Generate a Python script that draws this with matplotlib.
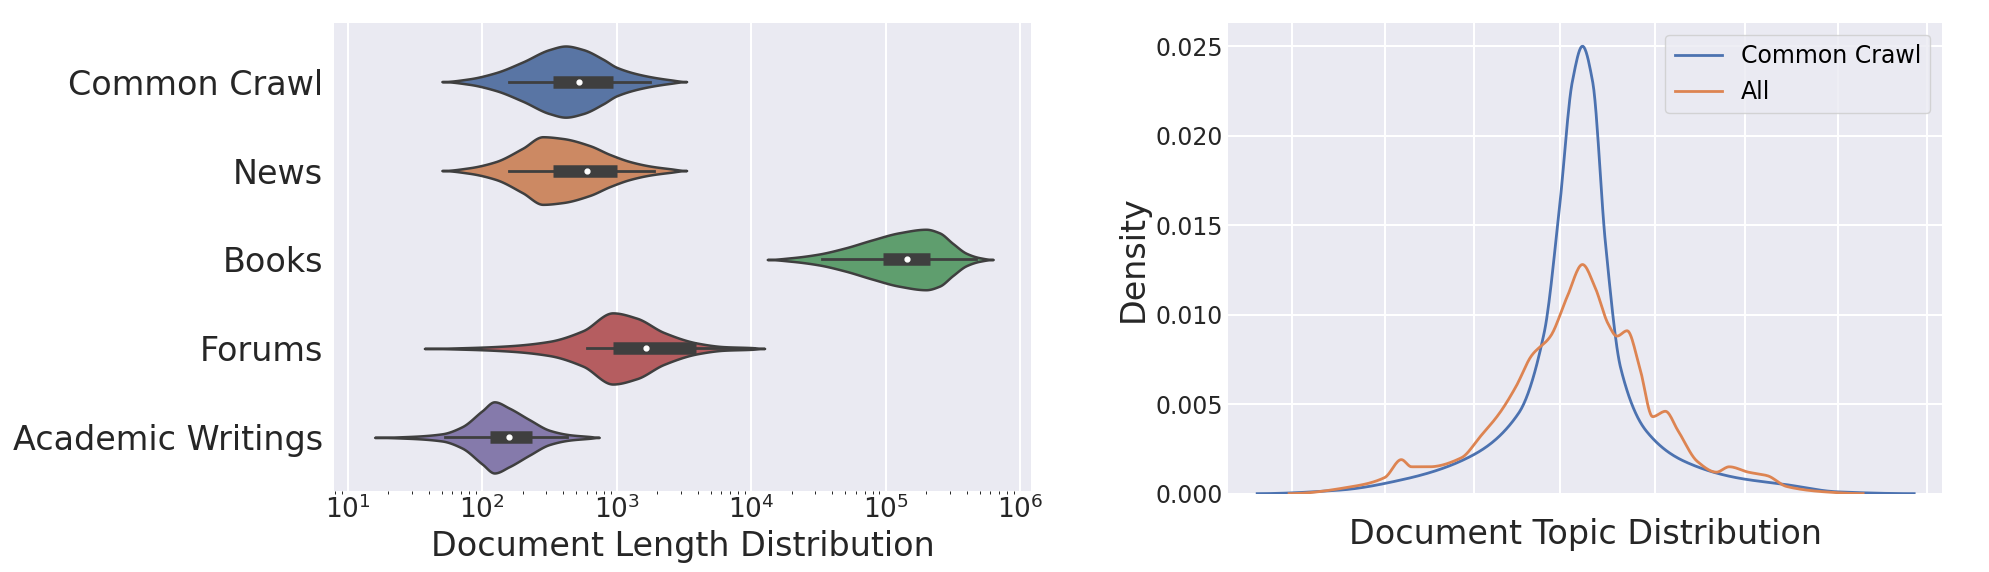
import numpy as np
import matplotlib
matplotlib.use("Agg")
import matplotlib.pyplot as plt

categories = ["Common Crawl", "News", "Books", "Forums", "Academic Writings"]
colors = ["#5975a4", "#cc8963", "#5f9e6e", "#b55d60", "#857aab"]
# violin outlines: log10(length) and half-width
prof_x = [
    [1.70, 1.90, 2.10, 2.30, 2.50, 2.62, 2.75, 2.90, 3.00, 3.20, 3.40, 3.52],
    [1.70, 1.90, 2.10, 2.30, 2.45, 2.60, 2.80, 2.95, 3.10, 3.25, 3.40, 3.52],
    [4.12, 4.30, 4.50, 4.70, 4.90, 5.10, 5.30, 5.40, 5.50, 5.60, 5.70, 5.80],
    [1.57, 1.90, 2.20, 2.50, 2.75, 2.97, 3.15, 3.35, 3.60, 3.80, 4.00, 4.10],
    [1.20, 1.45, 1.70, 1.85, 2.00, 2.09, 2.20, 2.35, 2.50, 2.65, 2.80, 2.87],
]
prof_w = [
    [0.00, 0.03, 0.10, 0.22, 0.36, 0.40, 0.36, 0.25, 0.16, 0.07, 0.02, 0.00],
    [0.00, 0.03, 0.10, 0.25, 0.38, 0.36, 0.28, 0.18, 0.10, 0.05, 0.02, 0.00],
    [0.00, 0.02, 0.06, 0.13, 0.22, 0.30, 0.34, 0.30, 0.18, 0.07, 0.02, 0.00],
    [0.00, 0.01, 0.03, 0.08, 0.20, 0.40, 0.34, 0.18, 0.06, 0.02, 0.01, 0.00],
    [0.00, 0.01, 0.04, 0.12, 0.30, 0.40, 0.33, 0.20, 0.08, 0.03, 0.01, 0.00],
]
whisk_lo = [2.20, 2.20, 4.53, 2.78, 1.72]
q1 = [2.53, 2.53, 4.98, 2.97, 2.06]
med = [2.72, 2.78, 5.16, 3.22, 2.20]
q3 = [2.97, 3.00, 5.33, 3.59, 2.37]
whisk_hi = [3.25, 3.28, 5.67, 4.02, 2.63]

# right panel KDE curves (topic axis position, density)
cc_x = [985, 1050, 1100, 1150, 1190, 1210, 1222, 1232, 1240, 1248, 1258, 1270, 1290, 1320, 1360, 1400, 1440, 1500]
cc_y = [0, 0.0002, 0.0008, 0.002, 0.0045, 0.009, 0.016, 0.023, 0.025, 0.023, 0.014, 0.007, 0.0035, 0.0018, 0.0009, 0.0005, 0.0001, 0]
all_x = [1010, 1060, 1085, 1098, 1106, 1120, 1145, 1160, 1175, 1188, 1200, 1215, 1228, 1240, 1250, 1260, 1267, 1275, 1285, 1295, 1305, 1315, 1330, 1345, 1355, 1370, 1385, 1400, 1430, 1460]
all_y = [0, 0.0004, 0.0009, 0.0019, 0.0015, 0.0015, 0.002, 0.0032, 0.0045, 0.006, 0.0077, 0.0088, 0.011, 0.0128, 0.0115, 0.0095, 0.0088, 0.0091, 0.007, 0.0043, 0.0046, 0.0035, 0.0018, 0.0012, 0.0015, 0.0012, 0.001, 0.0004, 0.0001, 0]


def smooth_curve(x, y, n=600):
    """Monotone cubic Hermite (PCHIP) through the read points."""
    x = np.asarray(x, float); y = np.asarray(y, float)
    h = np.diff(x); d = np.diff(y) / h
    m = np.zeros_like(y)
    for k in range(1, len(x) - 1):
        if d[k - 1] * d[k] > 0:
            w1 = 2 * h[k] + h[k - 1]; w2 = h[k] + 2 * h[k - 1]
            m[k] = (w1 + w2) / (w1 / d[k - 1] + w2 / d[k])
    xx = np.linspace(x[0], x[-1], n)
    idx = np.clip(np.searchsorted(x, xx) - 1, 0, len(x) - 2)
    t = (xx - x[idx]) / h[idx]
    h00 = 2 * t**3 - 3 * t**2 + 1; h10 = t**3 - 2 * t**2 + t
    h01 = -2 * t**3 + 3 * t**2; h11 = t**3 - t**2
    yy = h00 * y[idx] + h10 * h[idx] * m[idx] + h01 * y[idx + 1] + h11 * h[idx] * m[idx + 1]
    return xx, yy


plt.rcParams["font.family"] = "DejaVu Sans"
fig = plt.figure(figsize=(19.9, 5.72), dpi=100)
fig.patch.set_facecolor("white")
ax = fig.add_axes([0.168, 0.142, 0.350, 0.818])
ax.set_facecolor("#eaeaf2")
ax.set_axisbelow(True)
edge = "#3f3f3f"
for i in range(len(categories)):
    xx, ww = smooth_curve(prof_x[i], prof_w[i], 300)
    ww = np.clip(ww, 0, None)
    ax.fill_between(10 ** xx, i - ww, i + ww, facecolor=colors[i], edgecolor=edge, linewidth=1.8, zorder=2)
    ax.plot([10 ** whisk_lo[i], 10 ** whisk_hi[i]], [i, i], color=edge, lw=2, zorder=3)
    ax.plot([10 ** q1[i], 10 ** q3[i]], [i, i], color=edge, lw=9, solid_capstyle="butt", zorder=3)
    ax.scatter([10 ** med[i]], [i], color="white", s=12, zorder=4)
ax.set_xscale("log")
ax.set_xlim(10 ** 0.9, 10 ** 6.08)
ax.set_ylim(4.6, -0.66)
ax.set_yticks(range(len(categories)))
ax.set_yticklabels(categories, fontsize=24, color="#262626")
ax.set_xticks([10, 100, 1000, 1e4, 1e5, 1e6])
ax.tick_params(axis="x", labelsize=19, length=0, colors="#262626")
ax.tick_params(axis="y", length=0, pad=8)
ax.grid(axis="x", color="white", lw=1.5)
ax.set_xlabel("Document Length Distribution", fontsize=24, color="#262626")
for s in ax.spines.values():
    s.set_visible(False)

ax2 = fig.add_axes([0.617, 0.137, 0.359, 0.823])
ax2.set_facecolor("#eaeaf2")
ax2.set_axisbelow(True)
x1, y1 = smooth_curve(cc_x, cc_y)
x2, y2 = smooth_curve(all_x, all_y)
ax2.plot(x1, y1, color="#4c72b0", lw=2, label="Common Crawl")
ax2.plot(x2, y2, color="#dd8452", lw=2, label="All")
ax2.set_xlim(962, 1522)
ax2.set_ylim(0, 0.0263)
ax2.set_xticks([1012, 1085, 1155, 1222, 1297, 1367, 1440, 1510])
ax2.set_xticklabels([])
ax2.tick_params(axis="both", length=0)
ax2.set_yticks([0, 0.005, 0.01, 0.015, 0.02, 0.025])
ax2.set_yticklabels(["0.000", "0.005", "0.010", "0.015", "0.020", "0.025"], fontsize=17, color="#262626")
ax2.grid(color="white", lw=1.5)
ax2.set_ylabel("Density", fontsize=24, color="#262626")
ax2.set_xlabel("Document Topic Distribution", fontsize=24, labelpad=14, color="#262626")
for s in ax2.spines.values():
    s.set_visible(False)
ax2.legend(fontsize=17, loc="upper right", frameon=True, facecolor="#eaeaf2", edgecolor="#cccccc")
fig.savefig("out.png", dpi=100)
